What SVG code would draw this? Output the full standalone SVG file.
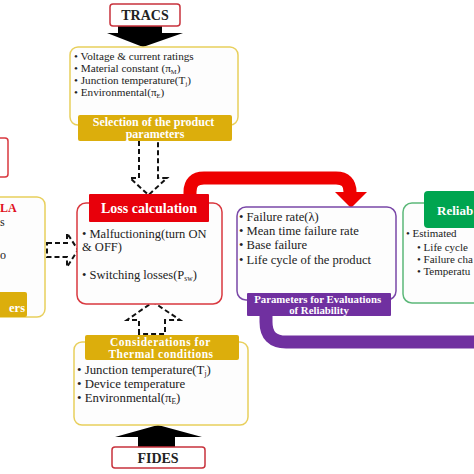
<svg xmlns="http://www.w3.org/2000/svg" width="474" height="474" viewBox="0 0 474 474">
<style>
  .t { font-family: "Liberation Serif", "Times New Roman", serif; fill: #222; }
  .h { font-family: "Liberation Serif", "Times New Roman", serif; font-weight: bold; fill: #fff; }
  .ybox { fill: #fdfdfd; stroke: #e8cf5c; stroke-width: 1.5; }
  .rbox { fill: #fdfdfd; stroke: #d9383f; stroke-width: 1.5; }
  .pbox { fill: #fdfdfd; stroke: #7a48a8; stroke-width: 1.5; }
  .gbox { fill: #fdfdfd; stroke: #5cb879; stroke-width: 1.5; }
  .yband { fill: #dcae0c; }
  .dash { fill: #fff; stroke: #111; stroke-width: 2; stroke-dasharray: 5 3; }
</style>
<rect width="474" height="474" fill="#fff"/>

<g id="connectors">
  <path d="M118,25 H162 V33 H183 L143,47 L107,33 H118 Z" fill="#000"/>
  <path d="M138,447 H175 V437 H202 L158,425 L115,437 H138 Z" fill="#000"/>
  <path class="dash" d="M139,141 V178 H130 L148.5,195 L167,178 H158 V141"/>
  <path class="dash" d="M47,243 H67 V233 L78,250 L67,267 V257 H47 Z"/>
  <path class="dash" d="M139,334 V320 H127 L153,302 L180,320 H165 V334 Z"/>
  <path d="M190,195 V192 Q190,178 204,178 H336 Q350,178 350,192 V194" fill="none" stroke="#ee0000" stroke-width="13"/>
  <polygon points="335,192 367,192 351,208" fill="#ee0000"/>
  <path d="M266,316 V322 Q266,342 286,342 H480" fill="none" stroke="#7030a0" stroke-width="13"/>
</g>

<g id="tracs">
  <rect x="110" y="4" width="70" height="22" rx="3" fill="#fff" stroke="#c8323c" stroke-width="1.5"/>
  <text class="t" x="145" y="20" font-size="14" font-weight="bold" text-anchor="middle">TRACS</text>
</g>

<g id="product-parameters">
  <rect class="ybox" x="70" y="47" width="168" height="78" rx="8"/>
  <text class="t" font-size="11.2">
    <tspan x="74" y="60">• Voltage &amp; current ratings</tspan>
    <tspan x="74" y="72">• Material constant (π<tspan font-size="6.5" dy="1.5">M</tspan><tspan dy="-1.5">)</tspan></tspan>
    <tspan x="74" y="84">• Junction temperature(T<tspan font-size="6.5" dy="1.5">j</tspan><tspan dy="-1.5">)</tspan></tspan>
    <tspan x="74" y="96">• Environmental(π<tspan font-size="6.5" dy="1.5">E</tspan><tspan dy="-1.5">)</tspan></tspan>
  </text>
  <rect class="yband" x="78" y="115" width="154" height="26" rx="2"/>
  <text class="h" font-size="12" text-anchor="middle">
    <tspan x="155" y="125.5">Selection of the product</tspan>
    <tspan x="155" y="138">parameters</tspan>
  </text>
</g>

<g id="left-red-box">
  <rect x="-6" y="138" width="14" height="39" rx="3" fill="#fff" stroke="#d9383f" stroke-width="1.5"/>
</g>

<g id="left-yellow-box">
  <rect class="ybox" x="-10" y="197" width="55" height="120" rx="8"/>
  <text x="0" y="212" font-family="Liberation Serif, serif" font-weight="bold" font-size="12" fill="#e01020">LA</text>
  <text class="t" x="0" y="226" font-size="12">s</text>
  <text class="t" x="0" y="259" font-size="12">o</text>
  <rect class="yband" x="-5" y="292" width="32" height="25" rx="2"/>
  <text class="h" x="25" y="312" font-size="12.5" text-anchor="end">ers</text>
</g>

<g id="loss-calculation">
  <rect class="rbox" x="77" y="203" width="145" height="101" rx="9"/>
  <rect x="89" y="194" width="120" height="28" rx="1" fill="#e8000b"/>
  <text class="h" x="149" y="213" font-size="14" text-anchor="middle">Loss calculation</text>
  <text class="t" font-size="12.5">
    <tspan x="82" y="238">• Malfuctioning(turn ON</tspan>
    <tspan x="82" y="251">&amp; OFF)</tspan>
    <tspan x="82" y="279">• Switching  losses(P<tspan font-size="7.5" dy="2">sw</tspan><tspan dy="-2">)</tspan></tspan>
  </text>
</g>

<g id="thermal-conditions">
  <rect class="ybox" x="74" y="342" width="174" height="83" rx="8"/>
  <rect class="yband" x="85" y="335" width="154" height="25" rx="2"/>
  <text class="h" font-size="11.5" text-anchor="middle" letter-spacing="0.5">
    <tspan x="162" y="345.5">Considerations for</tspan>
    <tspan x="161" y="358">Thermal conditions</tspan>
  </text>
  <text class="t" font-size="12.8">
    <tspan x="77" y="374">• Junction temperature(T<tspan font-size="7.5" dy="2">j</tspan><tspan dy="-2">)</tspan></tspan>
    <tspan x="77" y="388">• Device temperature</tspan>
    <tspan x="77" y="402">• Environmental(π<tspan font-size="7.5" dy="2">E</tspan><tspan dy="-2">)</tspan></tspan>
  </text>
</g>

<g id="fides">
  <rect x="112" y="447" width="93" height="21" rx="3" fill="#fff" stroke="#c8323c" stroke-width="1.5"/>
  <text class="t" x="158" y="463" font-size="14" font-weight="bold" text-anchor="middle">FIDES</text>
</g>

<g id="reliability-parameters">
  <rect class="pbox" x="237" y="207" width="159" height="93" rx="9"/>
  <text class="t" font-size="12.6">
    <tspan x="239" y="221">• Failure rate(λ)</tspan>
    <tspan x="239" y="235">• Mean time failure rate</tspan>
    <tspan x="239" y="249">• Base failure</tspan>
    <tspan x="239" y="264">• Life cycle of the product</tspan>
  </text>
  <rect x="247" y="293" width="144" height="23" rx="1" fill="#7030a0"/>
  <text class="h" font-size="10.8" text-anchor="middle">
    <tspan x="319" y="303">Parameters for Evaluations</tspan>
    <tspan x="319" y="314">of Reliability</tspan>
  </text>
</g>

<g id="reliability">
  <rect class="gbox" x="403" y="203" width="90" height="100" rx="9"/>
  <rect x="424" y="191" width="60" height="37" rx="4" fill="#00a550"/>
  <text class="h" x="437" y="215" font-size="13">Reliab</text>
  <text class="t" font-size="11">
    <tspan x="406" y="237">• Estimated</tspan>
    <tspan x="417" y="251">• Life cycle</tspan>
    <tspan x="417" y="263">• Failure cha</tspan>
    <tspan x="417" y="275">• Temperatu</tspan>
  </text>
</g>
</svg>
